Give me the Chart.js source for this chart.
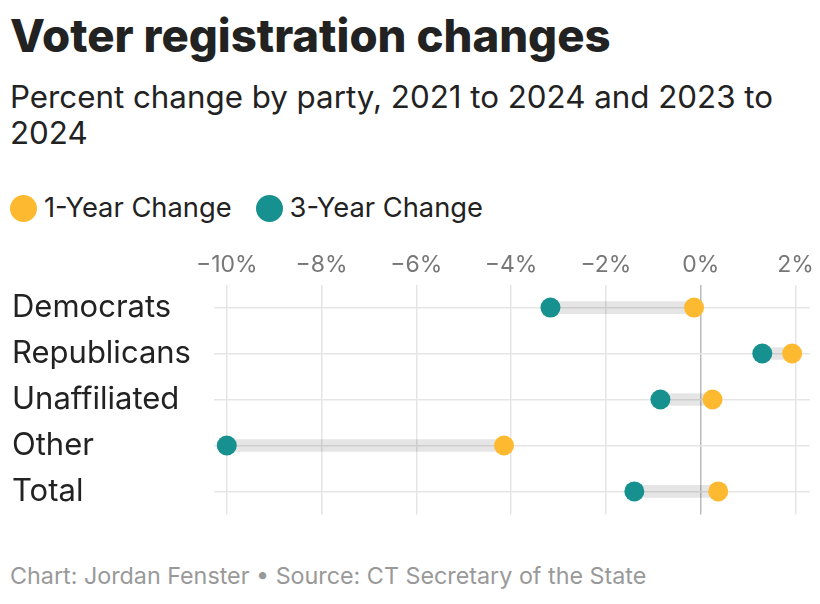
<!DOCTYPE html>
<html lang="en">

<head>
    <meta charset="UTF-8">
    <title>Voter registration changes</title>
    <script src="https://cdn.jsdelivr.net/npm/chart.js"></script>
    <style>
        body { margin: 0; width: 820px; height: 604px; background: #fff; font-family: Inter, sans-serif; color: #222; position: relative; overflow: hidden; }
        h1 { position: absolute; left: 10px; top: 8px; margin: 0; font-size: 45.5px; font-weight: 800; white-space: nowrap; }
        .sub { position: absolute; left: 10px; top: 79px; width: 795px; font-size: 31.3px; line-height: 36px; color: #222; }
        .legend { position: absolute; left: 10px; top: 192px; display: flex; font-size: 27.3px; line-height: 32px; }
        .legend .item { display: flex; align-items: center; margin-right: 24px; }
        .legend .dot { width: 27px; height: 27px; border-radius: 50%; margin-right: 7px; }
        #wrap { position: absolute; left: 0; top: 239px; width: 820px; height: 294px; }
        .footer { position: absolute; left: 10px; top: 561px; font-size: 23.3px; color: #999; }
    </style>
</head>

<body>
    <h1>Voter registration changes</h1>
    <div class="sub">Percent change by party, 2021 to 2024 and 2023 to 2024</div>
    <div class="legend" id="legend"></div>
    <div id="wrap"><canvas id="dumbbell"></canvas></div>
    <div class="footer">Chart: Jordan Fenster • Source: CT Secretary of the State</div>
</body>

</html>

<script>
    var partidos = ["Democrats", "Republicans", "Unaffiliated", "Other", "Total"];
    var umAno = [-0.14, 1.93, 0.25, -4.15, 0.37];
    var tresAnos = [-3.17, 1.30, -0.85, -10.0, -1.40];
    var tickValores = [-10, -8, -6, -4, -2, 0, 2];
    var nomes = ["1-Year Change", "3-Year Change"];
    var cores = ["#fdba31", "#17918f"];

    // legenda em html
    var legenda = document.getElementById("legend");
    for (var i = 0; i < nomes.length; i++) {
        legenda.innerHTML += '<div class="item"><span class="dot" style="background:' + cores[i] + '"></span>' + nomes[i] + '</div>';
    }

    var faixas = [];
    for (var i = 0; i < partidos.length; i++) {
        faixas.push([tresAnos[i], umAno[i]]);
    }

    new Chart(document.getElementById("dumbbell"), {
        type: "bar",
        data: {
            labels: partidos,
            datasets: [
                {
                    type: "line", label: nomes[1], data: tresAnos, showLine: false,
                    pointRadius: 10, pointHoverRadius: 10, pointBackgroundColor: cores[1], pointBorderWidth: 0, order: 1
                },
                {
                    type: "line", label: nomes[0], data: umAno, showLine: false,
                    pointRadius: 10, pointHoverRadius: 10, pointBackgroundColor: cores[0], pointBorderWidth: 0, order: 0
                },
                {
                    label: "range", data: faixas, barThickness: 12,
                    backgroundColor: "rgba(0,0,0,0.1)", borderSkipped: false, order: 2
                }
            ]
        },
        options: {
            indexAxis: "y",
            responsive: true,
            maintainAspectRatio: false,
            animation: false,
            layout: { padding: { left: 12, right: 10, top: 6, bottom: 2 } },
            plugins: { legend: { display: false }, tooltip: { enabled: false } },
            scales: {
                x: {
                    position: "top",
                    min: -10.27,
                    max: 2.3,
                    afterBuildTicks: function (scale) {
                        scale.ticks = tickValores.map(function (v) { return { value: v }; });
                    },
                    border: { display: false },
                    grid: {
                        drawTicks: false,
                        color: function (ctx) { return ctx.tick && ctx.tick.value === 0 ? "#bbbbbb" : "#e5e5e5"; },
                        lineWidth: 1.5
                    },
                    ticks: {
                        padding: 6,
                        color: "#777",
                        font: { family: "Inter", size: 23 },
                        callback: function (v) { return (v < 0 ? "\u2212" + Math.abs(v) : v) + "%"; }
                    }
                },
                y: {
                    border: { display: false },
                    grid: { offset: false, drawTicks: false, color: "#e5e5e5", lineWidth: 1.5 },
                    afterFit: function (scale) { scale.width = 202; },
                    ticks: {
                        crossAlign: "far",
                        padding: 0,
                        color: "#222",
                        font: { family: "Inter", size: 31 }
                    }
                }
            }
        }
    });
</script>
